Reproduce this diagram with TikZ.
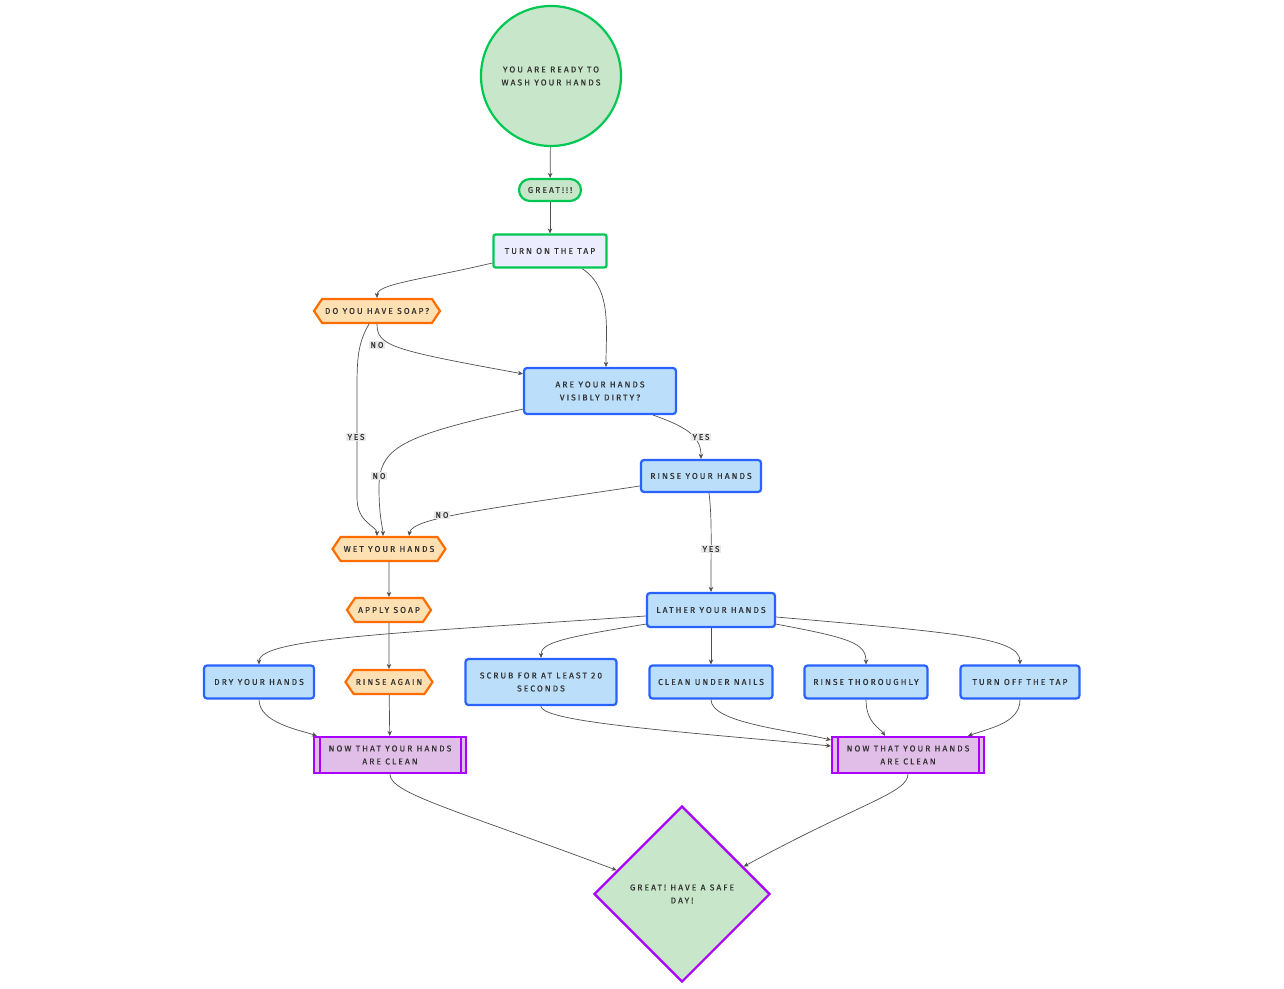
\documentclass[tikz,border=0pt]{standalone}
\usepackage{fontspec}
\setmainfont{Fira Sans}[LetterSpace=24, FakeBold=0.5]
\usepackage{tikz}
\usetikzlibrary{arrows.meta, shapes.geometric, shapes.symbols, calc}
\definecolor{gborder}{RGB}{0,200,83}
\definecolor{gfill}{RGB}{200,230,201}
\definecolor{lav}{RGB}{236,236,255}
\definecolor{oborder}{RGB}{255,109,0}
\definecolor{ofill}{RGB}{255,224,178}
\definecolor{bborder}{RGB}{41,98,255}
\definecolor{bfill}{RGB}{187,222,251}
\definecolor{pborder}{RGB}{170,0,255}
\definecolor{pfill}{RGB}{225,190,231}
\definecolor{txt}{RGB}{51,51,51}
\definecolor{linec}{RGB}{80,80,80}
\definecolor{lblbg}{RGB}{232,232,232}

\begin{document}
\begin{tikzpicture}[x=1pt, y=1pt,
  base/.style={font=\fontsize{8.5}{13}\selectfont, text=txt, align=center, line width=2.2pt, inner sep=0pt},
  startnode/.style={base, circle, draw=gborder, fill=gfill, minimum size=140},
  pill/.style={base, rectangle, rounded corners=11, draw=gborder, fill=gfill},
  greenbox/.style={base, rectangle, rounded corners=2, draw=gborder, fill=lav},
  bluebox/.style={base, rectangle, rounded corners=3, draw=bborder, fill=bfill},
  hexa/.style={base, signal, signal to=west and east, signal pointer angle=112, draw=oborder, fill=ofill, minimum height=24},
  subr/.style={base, rectangle, draw=pborder, fill=pfill, minimum width=152, minimum height=36,
    path picture={
      \draw[pborder, line width=2pt] ($(path picture bounding box.north west)+(5.5,0)$) -- ($(path picture bounding box.south west)+(5.5,0)$);
      \draw[pborder, line width=2pt] ($(path picture bounding box.north east)+(-5.5,0)$) -- ($(path picture bounding box.south east)+(-5.5,0)$);}},
  endnode/.style={base, diamond, aspect=1, draw=pborder, fill=gfill, minimum width=176, minimum height=176},
  lbl/.style={font=\fontsize{8}{9}\selectfont, text=txt, fill=lblbg, inner sep=1.5pt},
  link/.style={draw=linec, line width=0.7pt, -{Stealth[length=5pt, width=4.5pt]}}]
\useasboundingbox (0,0) rectangle (1284,988);

\node[startnode] (start) at (551,912) {YOU ARE READY TO\\WASH YOUR HANDS};
\node[pill, minimum width=62, minimum height=22] (great) at (550,798) {GREAT!!!};
\node[greenbox, minimum width=113, minimum height=33] (tap) at (550,737) {TURN ON THE TAP};
\node[hexa, minimum width=126] (soap) at (377,677) {DO YOU HAVE SOAP?};
\node[bluebox, minimum width=152, minimum height=46] (dirty) at (600,597) {ARE YOUR HANDS\\VISIBLY DIRTY?};
\node[bluebox, minimum width=120, minimum height=32] (rinseh) at (701,512) {RINSE YOUR HANDS};
\node[hexa, minimum width=113] (wet) at (389,439) {WET YOUR HANDS};
\node[hexa, minimum width=84] (apply) at (389,378) {APPLY SOAP};
\node[bluebox, minimum width=128, minimum height=34] (lather) at (711,378) {LATHER YOUR HANDS};
\node[hexa, minimum width=87] (rinseag) at (389,306) {RINSE AGAIN};
\node[bluebox, minimum width=110, minimum height=33] (dry) at (259,306) {DRY YOUR HANDS};
\node[bluebox, minimum width=151, minimum height=46] (scrub) at (541,306) {SCRUB FOR AT LEAST 20\\SECONDS};
\node[bluebox, minimum width=123, minimum height=33] (nails) at (711,306) {CLEAN UNDER NAILS};
\node[bluebox, minimum width=123, minimum height=33] (rinseth) at (866,306) {RINSE THOROUGHLY};
\node[bluebox, minimum width=119, minimum height=33] (tapoff) at (1020,306) {TURN OFF THE TAP};
\node[subr] (clean1) at (390,233) {NOW THAT YOUR HANDS\\ARE CLEAN};
\node[subr] (clean2) at (908,233) {NOW THAT YOUR HANDS\\ARE CLEAN};
\node[endnode] (safe) at (682,94) {GREAT! HAVE A SAFE\\DAY!};

\draw[link] (start) -- (great);
\draw[link] (great) -- (tap);
\draw[link] ($(tap.west)+(0,-12)$) .. controls (420,708) and (377,704) .. (soap.north);
\draw[link] ($(tap.south)+(32,0)$) .. controls (612,700) and (606,660) .. ($(dirty.north)+(6,0)$);
\draw[link] (soap.south) .. controls (377,642) and (392,638) .. ($(dirty.north west)+(0,-7)$);
\draw[link] ($(soap.south)+(-8,0)$) .. controls (358,645) and (357,630) .. (357,600) -- (357,490) .. controls (357,465) and (377,462) .. ($(wet.north)+(-12,0)$);
\draw[link] ($(dirty.south west)+(0,6)$) .. controls (400,552) and (379,540) .. (379,500) .. controls (379,470) and (383,460) .. ($(wet.north)+(-6,0)$);
\draw[link] ($(dirty.south east)+(-24,0)$) .. controls (690,560) and (701,550) .. (rinseh.north);
\draw[link] ($(rinseh.west)+(0,-10)$) .. controls (480,478) and (412,470) .. ($(wet.north)+(20,0)$);
\draw[link] ($(rinseh.south)+(8,0)$) .. controls (712,470) and (711,450) .. (lather.north);
\draw[link] (wet) -- (apply);
\draw[link] (apply) -- (rinseag);
\draw[link] (rinseag) -- (clean1);
\draw[link] ($(lather.west)+(0,-6)$) .. controls (400,355) and (259,350) .. (dry.north);
\draw[link] ($(lather.south west)+(0,4)$) .. controls (560,350) and (541,345) .. (scrub.north);
\draw[link] (lather) -- (nails);
\draw[link] ($(lather.south east)+(0,4)$) .. controls (850,350) and (866,345) .. (rinseth.north);
\draw[link] ($(lather.east)+(0,-7)$) .. controls (960,355) and (1020,350) .. (tapoff.north);
\draw[link] (dry.south) .. controls (259,265) and (300,258) .. ($(clean1.north west)+(4,0)$);
\draw[link] (scrub.south) .. controls (541,265) and (700,255) .. ($(clean2.west)+(0,9)$);
\draw[link] (nails.south) .. controls (711,265) and (790,258) .. ($(clean2.west)+(0,15)$);
\draw[link] (rinseth.south) .. controls (866,265) and (880,260) .. ($(clean2.north)+(-23,0)$);
\draw[link] (tapoff.south) .. controls (1020,265) and (990,260) .. ($(clean2.north)+(60,0)$);
\draw[link] (clean1.south) .. controls (390,195) and (450,180) .. (safe.160);
\draw[link] (clean2.south) .. controls (908,195) and (860,185) .. (safe.24);

\node[lbl] (no1) at (377,643) {NO};
\node[lbl] (yes1) at (356,551) {YES};
\node[lbl] (no2) at (379,512) {NO};
\node[lbl] (yes2) at (701,551) {YES};
\node[lbl] (no3) at (442,473) {NO};
\node[lbl] (yes3) at (711,439) {YES};
\end{tikzpicture}
\end{document}
